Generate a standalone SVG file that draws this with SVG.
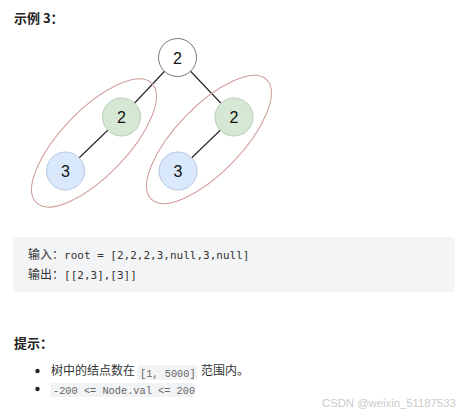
<svg xmlns="http://www.w3.org/2000/svg" width="474" height="413" viewBox="0 0 474 413">
<style>
.h{font-family:"Noto Sans CJK SC","Liberation Sans",sans-serif;font-weight:bold;font-size:13px;fill:#222}
.n{font-family:"Liberation Sans",Arial,sans-serif;font-size:16px;fill:#111;text-anchor:middle}
.cj{font-family:"Noto Sans CJK SC",sans-serif;font-size:12px;fill:#333}
.mono{font-family:"DejaVu Sans Mono","Liberation Mono",monospace;font-size:11px;fill:#333}
.ic{font-family:"Liberation Mono","Noto Sans CJK SC",monospace;font-size:10.3px;fill:#666}
.edge{stroke:#222;stroke-width:1.1}
.ring{fill:none;stroke:#cf9c99;stroke-width:1}
.wm{font-family:"Liberation Sans",Arial,sans-serif;font-size:11.3px;fill:#cbcbcb}
</style>
<rect width="474" height="413" fill="#fff"/>
<text class="h" x="14" y="23">示例 3：</text>
<g id="connectors">
<line class="edge" x1="177.5" y1="57.5" x2="121.5" y2="117"/>
<line class="edge" x1="177.5" y1="57.5" x2="234" y2="117"/>
<line class="edge" x1="121.5" y1="117" x2="65.5" y2="171"/>
<line class="edge" x1="234" y1="117" x2="178" y2="171"/>
</g>
<g id="groups">
<ellipse class="ring" cx="94" cy="143" rx="83" ry="33" transform="rotate(-46 94 143)"/>
<ellipse class="ring" cx="209" cy="139.5" rx="83" ry="33" transform="rotate(-46 209 139.5)"/>
</g>
<g id="root">
<circle cx="177.5" cy="57.5" r="19" fill="#fff" stroke="#777"/>
<text class="n" x="177.5" y="63.5">2</text>
</g>
<g id="left2">
<circle cx="121.5" cy="117" r="19" fill="#d5e8d4" stroke="#b9ceb8"/>
<text class="n" x="121.5" y="123">2</text>
</g>
<g id="right2">
<circle cx="234" cy="117" r="19" fill="#d5e8d4" stroke="#b9ceb8"/>
<text class="n" x="234" y="123">2</text>
</g>
<g id="left3">
<circle cx="65.5" cy="171" r="19" fill="#dae8fc" stroke="#b5c6df"/>
<text class="n" x="65.5" y="177">3</text>
</g>
<g id="right3">
<circle cx="178" cy="171" r="19" fill="#dae8fc" stroke="#b5c6df"/>
<text class="n" x="178" y="177">3</text>
</g>
<rect x="13" y="237" width="442" height="55" rx="2" fill="#f3f4f5"/>
<text x="28" y="259"><tspan class="cj">输入：</tspan><tspan class="mono">root = [2,2,2,3,null,3,null]</tspan></text>
<text x="28" y="279"><tspan class="cj">输出：</tspan><tspan class="mono">[[2,3],[3]]</tspan></text>
<text class="h" x="14" y="348">提示：</text>
<circle cx="37.5" cy="371" r="2.2" fill="#222"/>
<circle cx="37.5" cy="389" r="2.2" fill="#222"/>
<text class="cj" x="51" y="375">树中的结点数在</text>
<rect x="137" y="365" width="60" height="15" rx="2" fill="#f2f3f5"/>
<text class="ic" x="140" y="376.5">[1, 5000]</text>
<text class="cj" x="201" y="375">范围内。</text>
<rect x="50.5" y="383" width="143" height="14" rx="2" fill="#f2f3f5"/>
<text class="ic" x="53" y="393.5">-200 &lt;= Node.val &lt;= 200</text>
<text class="wm" x="322" y="407">CSDN @weixin_51187533</text>
</svg>
